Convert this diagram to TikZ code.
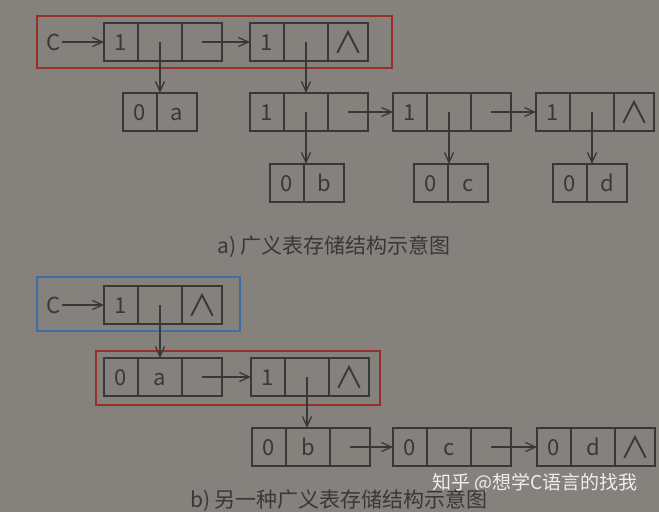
\documentclass[tikz,border=0pt]{standalone}
\usepackage{xcolor}
\usepackage{fontspec}
\usetikzlibrary{positioning,arrows.meta}
\newfontfamily\cjkfont{Noto Sans CJK SC}
\definecolor{bggray}{RGB}{133,130,126}
\definecolor{inkgray}{RGB}{56,56,56}
\definecolor{boxred}{RGB}{150,48,40}
\definecolor{boxblue}{RGB}{66,108,165}
\definecolor{markwhite}{RGB}{238,238,238}
\tikzstyle{cell} = [rectangle, draw=inkgray, line width=1.3pt, minimum height=38pt, inner sep=0pt, outer sep=0pt, text=inkgray, font=\cjkfont\fontsize{22}{24}\selectfont]
\tikzstyle{tagcell} = [cell, minimum width=34pt, text height=16pt, text depth=0pt]
\tikzstyle{valcell} = [cell, minimum width=40pt, text height=16pt, text depth=0pt]
\tikzstyle{wideval} = [valcell, minimum width=44pt]
\tikzstyle{ptrcell} = [cell, minimum width=44pt]
\tikzstyle{nextcell} = [cell, minimum width=40pt]
\tikzstyle{head} = [inner sep=1pt, text=inkgray, font=\cjkfont\fontsize{22}{24}\selectfont]
\tikzstyle{caption} = [inner sep=0pt, text=inkgray, font=\cjkfont\fontsize{21}{24}\selectfont]
\tikzstyle{link} = [draw=inkgray, line width=1.3pt, -{Straight Barb[length=10pt,width=9pt]}]
\tikzstyle{frame} = [line width=1.8pt]
\newcommand{\nil}{{\cjkfont\fontsize{30}{30}\selectfont ∧}}

\begin{document}
\begin{tikzpicture}[x=1pt,y=-1pt]
	\fill[bggray] (0,0) rectangle (659,512);
	\useasboundingbox (0,0) rectangle (659,512);
	\draw[frame, draw=boxred] (37,16) rectangle (392,68);
	\node[head] (Ca) at (54,42) {C};
	\node[tagcell, anchor=west] (a1t) at (104,42) {1};
	\node[ptrcell, right=0pt of a1t] (a1p) {};
	\node[nextcell, right=0pt of a1p] (a1n) {};
	\node[tagcell, anchor=west] (a2t) at (250,42) {1};
	\node[ptrcell, right=0pt of a2t] (a2p) {};
	\node[nextcell, right=0pt of a2p] (a2n) {\nil};
	\node[tagcell, anchor=west] (aa0) at (123,112) {0};
	\node[valcell, right=0pt of aa0] (aav) {a};
	\node[tagcell, anchor=west] (b1t) at (250,112) {1};
	\node[ptrcell, right=0pt of b1t] (b1p) {};
	\node[nextcell, right=0pt of b1p] (b1n) {};
	\node[tagcell, anchor=west] (b2t) at (393,112) {1};
	\node[ptrcell, right=0pt of b2t] (b2p) {};
	\node[nextcell, right=0pt of b2p] (b2n) {};
	\node[tagcell, anchor=west] (b3t) at (536,112) {1};
	\node[ptrcell, right=0pt of b3t] (b3p) {};
	\node[nextcell, right=0pt of b3p] (b3n) {\nil};
	\node[tagcell, anchor=west] (ab0) at (270,183) {0};
	\node[valcell, right=0pt of ab0] (abv) {b};
	\node[tagcell, anchor=west] (ac0) at (414,183) {0};
	\node[valcell, right=0pt of ac0] (acv) {c};
	\node[tagcell, anchor=west] (ad0) at (553,183) {0};
	\node[valcell, right=0pt of ad0] (adv) {d};
	\draw[link] (Ca) -- (a1t);
	\draw[link] (a1n.center) -- (a2t.west);
	\draw[link] (a1p.center) -- (a1p.center |- aa0.north);
	\draw[link] (a2p.center) -- (a2p.center |- b1t.north);
	\draw[link] (b1n.center) -- (b2t.west);
	\draw[link] (b2n.center) -- (b3t.west);
	\draw[link] (b1p.center) -- (b1p.center |- ab0.north);
	\draw[link] (b2p.center) -- (b2p.center |- ac0.north);
	\draw[link] (b3p.center) -- (b3p.center |- ad0.north);
	\node[caption] (capa) at (334,247) {a) 广义表存储结构示意图};

	\draw[frame, draw=boxblue] (37,277) rectangle (240,331);
	\node[head] (Cb) at (54,305) {C};
	\node[tagcell, anchor=west] (l1t) at (104,305) {1};
	\node[ptrcell, right=0pt of l1t] (l1p) {};
	\node[nextcell, right=0pt of l1p] (l1n) {\nil};
	\draw[frame, draw=boxred] (96,351) rectangle (380,405);
	\node[tagcell, anchor=west] (m1t) at (104,377) {0};
	\node[wideval, right=0pt of m1t] (m1v) {a};
	\node[nextcell, right=0pt of m1v] (m1n) {};
	\node[tagcell, anchor=west] (m2t) at (251,377) {1};
	\node[ptrcell, right=0pt of m2t] (m2p) {};
	\node[nextcell, right=0pt of m2p] (m2n) {\nil};
	\node[tagcell, anchor=west] (n1t) at (252,447) {0};
	\node[wideval, right=0pt of n1t] (n1v) {b};
	\node[nextcell, right=0pt of n1v] (n1n) {};
	\node[tagcell, anchor=west] (n2t) at (393,447) {0};
	\node[wideval, right=0pt of n2t] (n2v) {c};
	\node[nextcell, right=0pt of n2v] (n2n) {};
	\node[tagcell, anchor=west] (n3t) at (537,447) {0};
	\node[wideval, right=0pt of n3t] (n3v) {d};
	\node[nextcell, right=0pt of n3v] (n3n) {\nil};
	\draw[link] (Cb) -- (l1t);
	\draw[link] (l1p.center) -- (l1p.center |- m1v.north);
	\draw[link] (m1n.center) -- (m2t.west);
	\draw[link] (m2p.center) -- (m2p.center |- n1v.north);
	\draw[link] (n1n.center) -- (n2t.west);
	\draw[link] (n2n.center) -- (n3t.west);
	\node[caption, text=markwhite, font=\cjkfont\fontsize{19}{22}\selectfont] (mark) at (535,483) {知乎 @想学C语言的找我};
	\node[caption, anchor=west] (capb) at (190,501) {b) 另一种广义表存储结构示意图};
\end{tikzpicture}
\end{document}
